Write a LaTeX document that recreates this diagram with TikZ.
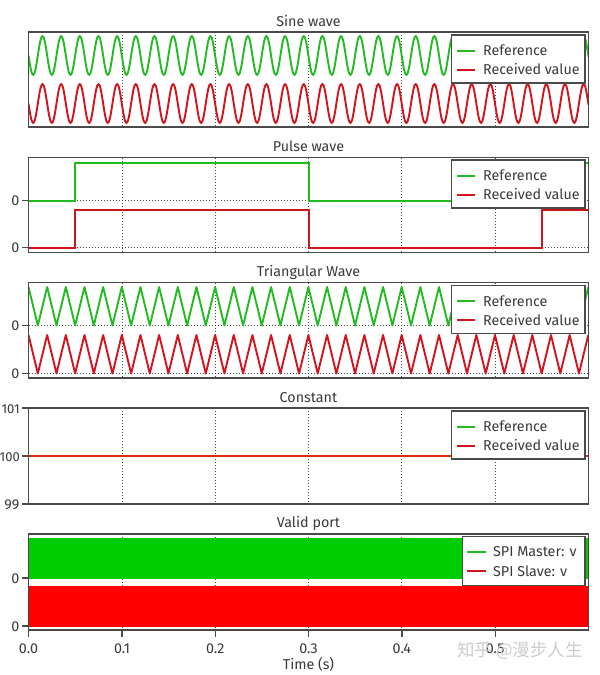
\documentclass[tikz,border=0pt]{standalone}
\usepackage{fontspec}
\setmainfont[Numbers=Proportional]{Fira Sans}
\newfontfamily\cjkwm{Noto Sans CJK SC}
\definecolor{axc}{HTML}{4A4A4A}
\definecolor{txc}{HTML}{3A3A3A}
\definecolor{gr}{HTML}{22BB22}
\definecolor{rd}{HTML}{D2141E}
\definecolor{fgr}{HTML}{00CC00}
\definecolor{frd}{HTML}{FF0000}
\tikzset{
 frameline/.style={draw=axc,line width=1.3pt},
 griddot/.style={draw=axc,line width=0.9pt,dash pattern=on 1.3pt off 1.7pt},
 tick/.style={draw=axc,line width=1.2pt},
 gline/.style={draw=gr,line width=1.9pt,line join=round},
 rline/.style={draw=rd,line width=1.9pt,line join=round},
 txt/.style={text=txc,font=\fontsize{14.3}{16}\selectfont,inner sep=0pt},
 txtsm/.style={text=txc,font=\fontsize{13}{16}\selectfont,inner sep=0pt},
 legbox/.style={draw=axc,fill=white,line width=1.3pt},
}
% straight pieces of the traces, as thin filled bars of even weight
\newcommand{\hseg}[4]{\fill[#1] (#2,#4-1) rectangle (#3,#4+1);}
\newcommand{\vseg}[4]{\fill[#1] (#2-1,#3-1) rectangle (#2+1,#4+1);}
\newcommand{\vgrid}[2]{\foreach \gx in {122,215.3,308.6,401.9,495.2}{\draw[griddot] (\gx,#1) -- (\gx,#2);}}
\newcommand{\legendbox}[1]{% #1 top
 \draw[legbox] (451.7,#1) rectangle (585,#1+48);
 \hseg{gr}{456.7}{475}{#1+15.5}
 \hseg{rd}{456.7}{475}{#1+34.5}
 \node[txt,anchor=base west] at (483,#1+20.5) {Reference};
 \node[txt,anchor=base west] at (483,#1+39.5) {Received value};
}
\begin{document}
\begin{tikzpicture}[x=1pt,y=-1pt]
\useasboundingbox (0,0) rectangle (600,675);
\fill[white] (0,0) rectangle (600,675);
% Titles
\node[txt,anchor=base] (t1) at (308.5,26) {Sine wave};
\node[txt,anchor=base] (t2) at (308.5,151) {Pulse wave};
\node[txt,anchor=base] (t3) at (308.5,276) {Triangular Wave};
\node[txt,anchor=base] (t4) at (308.5,402) {Constant};
\node[txt,anchor=base] (t5) at (308.5,527) {Valid port};
% Panel 1
\vgrid{32}{127}
\begin{scope}
\clip (28.5,32) rectangle (588.5,127);
\draw[gline] plot[smooth,domain=28.5:588.5,samples=481] (\x,{55.5+19.5*sin((\x-28.5)/18.66*360)});
\draw[rline] plot[smooth,domain=28.5:588.5,samples=481] (\x,{103.5+19.5*sin((\x-28.5)/18.66*360)});
\end{scope}
\draw[frameline] (28.5,32) rectangle (588.5,127);
\legendbox{35}
% Panel 2
\vgrid{157.5}{252.5}
\draw[griddot] (28.5,200.5) -- (588.5,200.5);
\draw[griddot] (28.5,247.5) -- (588.5,247.5);
\hseg{gr}{28.5}{75}{200.5}
\vseg{gr}{75}{162.5}{200.5}
\hseg{gr}{75}{308.6}{162.5}
\vseg{gr}{308.6}{162.5}{200.5}
\hseg{gr}{308.6}{541.8}{200.5}
\vseg{gr}{541.8}{162.5}{200.5}
\hseg{gr}{541.8}{588.5}{162.5}
\hseg{rd}{28.5}{75}{247.5}
\vseg{rd}{75}{210}{247.5}
\hseg{rd}{75}{308.6}{210}
\vseg{rd}{308.6}{210}{247.5}
\hseg{rd}{308.6}{541.8}{247.5}
\vseg{rd}{541.8}{210}{247.5}
\hseg{rd}{541.8}{588.5}{210}
\draw[frameline] (28.5,157.5) rectangle (588.5,252.5);
\legendbox{160}
\draw[tick] (22,200.5) -- (28.5,200.5);
\draw[tick] (22,247.5) -- (28.5,247.5);
\node[txt,anchor=base east] (y21) at (19.5,205.5) {0};
\node[txt,anchor=base east] (y22) at (19.5,252.5) {0};
% Panel 3
\vgrid{282.5}{378}
\draw[griddot] (28.5,325.5) -- (588.5,325.5);
\draw[griddot] (28.5,373.5) -- (588.5,373.5);
\begin{scope}
\clip (28.5,282.5) rectangle (588.5,378);
\draw[gline] plot[domain=0:60,samples=61] ({28.5+9.33*\x},{287+38.5*mod(round(\x),2)});
\draw[rline] plot[domain=0:60,samples=61] ({28.5+9.33*\x},{335+38.5*mod(round(\x),2)});
\end{scope}
\draw[frameline] (28.5,282.5) rectangle (588.5,378);
\legendbox{285.5}
\draw[tick] (22,325.5) -- (28.5,325.5);
\draw[tick] (22,373.5) -- (28.5,373.5);
\node[txt,anchor=base east] (y31) at (19.5,330.5) {0};
\node[txt,anchor=base east] (y32) at (19.5,378.5) {0};
% Panel 4
\vgrid{408}{504}
\hseg{rd!75!orange}{28.5}{588.5}{456}
\draw[frameline] (28.5,408) rectangle (588.5,504);
\legendbox{411}
\draw[tick] (22,408) -- (28.5,408);
\draw[tick] (22,456) -- (28.5,456);
\draw[tick] (22,504) -- (28.5,504);
\node[txtsm,anchor=base east] (y41) at (20,413) {101};
\node[txtsm,anchor=base east] (y42) at (20,461) {100};
\node[txt,anchor=base east] (y43) at (19.5,509) {99};
% Panel 5
\vgrid{534}{630}
\fill[fgr] (28.5,537.7) rectangle (588.5,579);
\fill[frd] (28.5,586) rectangle (588.5,626.7);
\draw[frameline] (28.5,534) rectangle (588.5,630);
\draw[legbox] (462.7,536.7) rectangle (585,585.7);
\hseg{gr}{467.3}{486}{551.5}
\hseg{rd}{467.3}{486}{571}
\node[txt,anchor=base west] at (493,556.5) {SPI Master: v};
\node[txt,anchor=base west] at (493,576) {SPI Slave: v};
\draw[tick] (22,578) -- (28.5,578);
\draw[tick] (22,626) -- (28.5,626);
\node[txt,anchor=base east] (y51) at (19.5,583) {0};
\node[txt,anchor=base east] (y52) at (19.5,631) {0};
% X ticks
\foreach \tx/\tl in {28.5/0.0,122/0.1,215.3/0.2,308.6/0.3,401.9/0.4,495.2/0.5}{
 \draw[tick] (\tx,630) -- (\tx,636.5);
 \node[txt,anchor=base] at (\tx,653) {\tl};
}
\node[txt,anchor=base] (xl) at (308.5,669) {Time (s)};
% Watermark
\node[anchor=base west,inner sep=0pt,text=black!20,font=\cjkwm\fontsize{17.5}{19}\selectfont] (wm) at (457,656.5) {知乎 @漫步人生};
\end{tikzpicture}
\end{document}
